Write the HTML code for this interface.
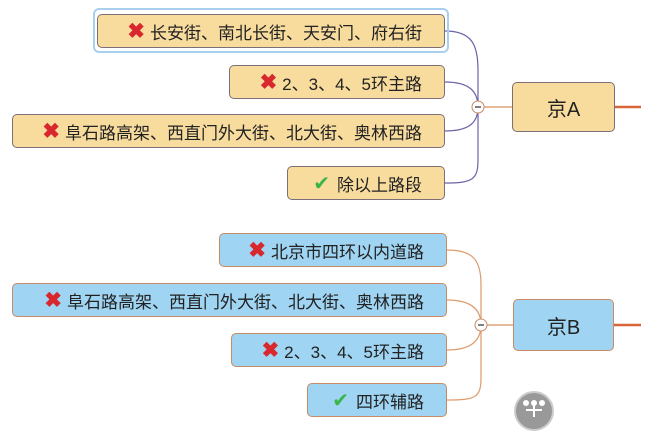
<!DOCTYPE html>
<html><head><meta charset="utf-8"><style>
body{margin:0;width:651px;height:438px;background:#fff;position:relative;overflow:hidden;font-family:"Liberation Sans","Noto Sans CJK SC",sans-serif;}
.b{position:absolute;box-sizing:border-box;border-radius:5px;font-size:17px;color:#222;display:flex;align-items:center;justify-content:flex-end;padding-right:22px;white-space:nowrap;}
.y{background:#f8dc9e;border:1.5px solid #7d6e78;}
.u{background:#9fd4f2;border:1.5px solid #c98a66;}
.x{color:#d8282e;font-size:21px;margin-right:5px;font-weight:bold;}
.c{color:#39b54a;font-size:20px;margin-right:7px;}
.m{justify-content:center;padding:0;font-size:20px;}
</style></head><body>
<svg width="651" height="438" style="position:absolute;left:0;top:0">
<g fill="none" stroke="#6a63a8" stroke-width="1.2">
<path d="M445 31 C472 31 478 45 478 70 L478 160 C478 180 472 183 445 183"/>
<path d="M445 82 C470 82 478 92 478 107"/>
<path d="M445 131 C470 131 478 122 478 107"/>
</g>
<line x1="484" y1="107" x2="512" y2="107" stroke="#d8915e" stroke-width="1.2"/>
<line x1="615" y1="107" x2="641" y2="107" stroke="#d8643a" stroke-width="2.5"/>
<circle cx="478" cy="107" r="6" fill="#fff" stroke="#c98a66"/>
<line x1="475" y1="107" x2="481" y2="107" stroke="#555" stroke-width="1.5"/>
<g fill="none" stroke="#df9a6c" stroke-width="1.2">
<path d="M447 250 C475 250 481 262 481 285 L481 378 C481 398 475 400 447 400"/>
<path d="M447 300 C472 300 481 310 481 325"/>
<path d="M447 350 C472 350 481 340 481 325"/>
</g>
<line x1="487" y1="325" x2="514" y2="325" stroke="#d8915e" stroke-width="1.2"/>
<line x1="614" y1="325" x2="641" y2="325" stroke="#d8643a" stroke-width="2.5"/>
<circle cx="481" cy="325" r="6" fill="#fff" stroke="#c98a66"/>
<line x1="478" y1="325" x2="484" y2="325" stroke="#555" stroke-width="1.5"/>
<circle cx="534" cy="411" r="19" fill="#999" stroke="#ccc" stroke-width="2"/>
<g fill="#fff"><circle cx="526" cy="403" r="3"/><circle cx="534" cy="403" r="3"/><circle cx="542" cy="403" r="3"/><rect x="526" y="409" width="16" height="2"/><rect x="533" y="403" width="2" height="14"/></g>
</svg>
<div style="position:absolute;left:93px;top:8px;width:356px;height:45px;border:2px solid #a8cfee;border-radius:6px;box-sizing:border-box"></div>
<div class="b y" style="left:97px;top:14px;width:348px;height:34px"><span class="x">✖</span>长安街、南北长街、天安门、府右街</div>
<div class="b y" style="left:229px;top:65px;width:216px;height:34px"><span class="x">✖</span>2、3、4、5环主路</div>
<div class="b y" style="left:12px;top:114px;width:433px;height:34px"><span class="x">✖</span>阜石路高架、西直门外大街、北大街、奥林西路</div>
<div class="b y" style="left:287px;top:166px;width:158px;height:34px"><span class="c">✔</span>除以上路段</div>
<div class="b y m" style="left:512px;top:82px;width:103px;height:50px">京A</div>
<div class="b u" style="left:219px;top:233px;width:228px;height:34px"><span class="x">✖</span>北京市四环以内道路</div>
<div class="b u" style="left:12px;top:283px;width:435px;height:34px"><span class="x">✖</span>阜石路高架、西直门外大街、北大街、奥林西路</div>
<div class="b u" style="left:231px;top:333px;width:216px;height:34px"><span class="x">✖</span>2、3、4、5环主路</div>
<div class="b u" style="left:307px;top:383px;width:140px;height:34px"><span class="c">✔</span>四环辅路</div>
<div class="b u m" style="left:513px;top:299px;width:101px;height:52px">京B</div>
</body></html>
